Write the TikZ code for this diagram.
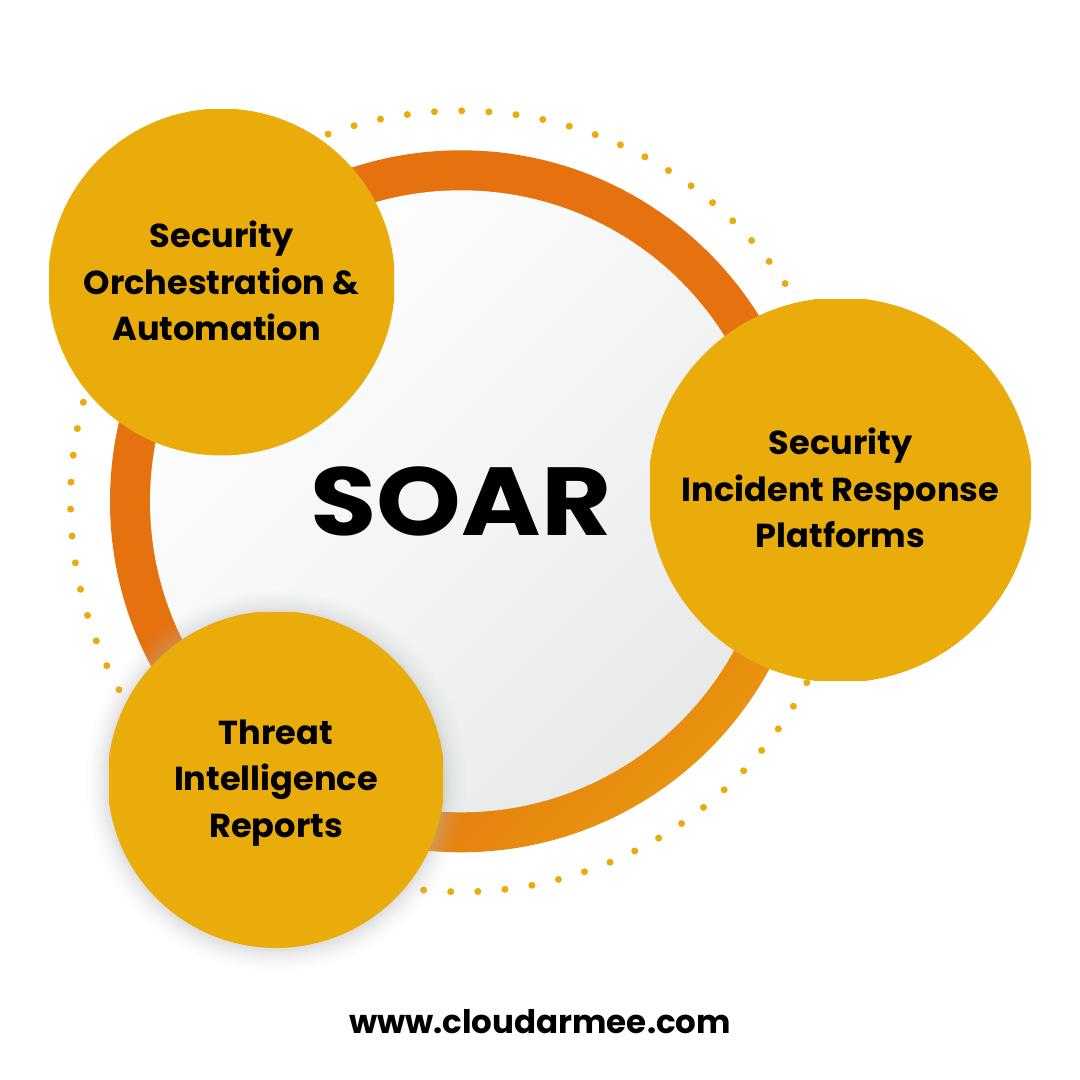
\documentclass[tikz,border=0pt]{standalone}
\usepackage{fontspec}
\usetikzlibrary{calc}
\setmainfont{Poppins}[BoldFont={* Bold},FakeStretch=1.012]
\newfontfamily\soarfont{Poppins}[BoldFont={* Bold},FakeStretch=1.116]
\newfontfamily\webfont{Poppins}[BoldFont={* Bold},FakeStretch=1.0]
\definecolor{goldc}{HTML}{E9AC0A}
\definecolor{orangec}{HTML}{E5710F}
\definecolor{midc}{HTML}{E8920F}
\definecolor{discend}{HTML}{E8EAEA}
\pgfdeclareverticalshading{ringshade}{100bp}{color(0bp)=(goldc); color(16bp)=(goldc); color(26bp)=(midc); color(42bp)=(orangec); color(100bp)=(orangec)}
\tikzset{
  dotmark/.style={circle,fill=goldc,draw=none,minimum size=1.4mm,inner sep=0pt},
  bubble/.style={circle,fill=goldc,draw=none,inner sep=0pt},
  bubbletext/.style={inner sep=0pt,align=center,text=black,
    font=\fontsize{18.9}{26.4}\selectfont\bfseries},
}
\begin{document}
\begin{tikzpicture}[x=0.02cm,y=-0.02cm]
\useasboundingbox (0,0) rectangle (1080,1080);
\fill[white] (0,0) rectangle (1080,1080);
\coordinate (hub) at (461,501.3);
% dotted orbit
\foreach \a in {29.9,33.9,...,109.9}{\node[dotmark] at ($(hub)+(\a:390.5 and -390.5)$) {};}
\foreach \a in {165.3,169.26,...,209}{\node[dotmark] at ($(hub)+(\a:390.5 and -390.5)$) {};}
\foreach \a in {264.5,268.49,...,333}{\node[dotmark] at ($(hub)+(\a:390.5 and -390.5)$) {};}
% ring and disc
\shade[shading=ringshade,shading angle=45] (hub) circle[radius=351];
\shade[top color=white,bottom color=discend,shading angle=45] (hub) circle[radius=311];
\node[font=\soarfont\fontsize{55}{60}\selectfont\bfseries] (soar) at (461,501) {SOAR};
% top-left bubble
\begin{scope}
\clip (49,109.5) rectangle (394,455);
\node[bubble,minimum size=6.94cm] (orch) at (221.5,282) {};
\end{scope}
\node[bubbletext,yshift=0.6pt] (orchtext) at (orch.center) {Security\\Orchestration \&\\Automation\hspace*{5.6pt}};
% right bubble
\begin{scope}
\clip (650,299.5) rectangle (1031,680.5);
\node[bubble,minimum size=7.7cm] (sirp) at (840.5,490) {};
\end{scope}
\node[bubbletext,yshift=1.1pt] (sirptext) at (sirp.center) {Security\\Incident Response\\Platforms};
% bottom bubble with soft shadow
\foreach \r in {169,170,171,172,173,174,176,178,180,183,186,190}{\fill[gray!50,opacity=0.045] (276,781) circle[radius=\r];}
\begin{scope}
\clip (109,612) rectangle (443,947);
\node[bubble,minimum size=6.74cm] (threat) at (276,779.5) {};
\end{scope}
\node[bubbletext,yshift=-2pt] (threattext) at (threat.center) {Threat\\Intelligence\\Reports};
\node[font=\webfont\fontsize{18.5}{22}\selectfont\bfseries] (web) at (540,1022) {www.cloudarmee.com};
\end{tikzpicture}
\end{document}
